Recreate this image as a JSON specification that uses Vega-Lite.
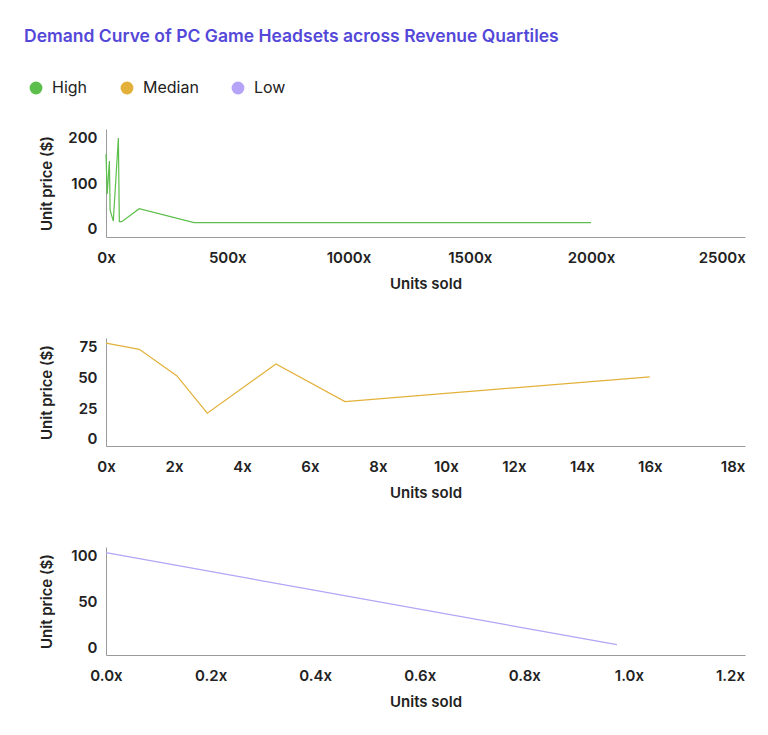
{
  "$schema": "https://vega.github.io/schema/vega-lite/v6.json",
  "background": "white",
  "padding": {"left": 24, "top": 27, "right": 10, "bottom": 10},
  "title": {"text": "Demand Curve of PC Game Headsets across Revenue Quartiles", "anchor": "start", "frame": "bounds", "color": "#5448d8", "font": "Inter", "fontSize": 17.5, "fontWeight": 600, "offset": 35, "dx": -4},
  "datasets": {
    "demand": [
      {"quartile": "High", "units": 0, "price": 163},
      {"quartile": "High", "units": 5, "price": 76},
      {"quartile": "High", "units": 14, "price": 148},
      {"quartile": "High", "units": 17, "price": 41},
      {"quartile": "High", "units": 30, "price": 17},
      {"quartile": "High", "units": 51, "price": 198},
      {"quartile": "High", "units": 55, "price": 16},
      {"quartile": "High", "units": 65, "price": 16},
      {"quartile": "High", "units": 137, "price": 44},
      {"quartile": "High", "units": 363, "price": 14},
      {"quartile": "High", "units": 2000, "price": 14},
      {"quartile": "Median", "units": 0, "price": 78},
      {"quartile": "Median", "units": 0.98, "price": 73},
      {"quartile": "Median", "units": 2.08, "price": 51.5},
      {"quartile": "Median", "units": 2.98, "price": 21},
      {"quartile": "Median", "units": 5.0, "price": 61},
      {"quartile": "Median", "units": 7.03, "price": 30.5},
      {"quartile": "Median", "units": 16.0, "price": 50.5},
      {"quartile": "Low", "units": 0, "price": 103},
      {"quartile": "Low", "units": 0.977, "price": 3}
    ]
  },
  "data": {"name": "demand"},
  "spacing": 47,
  "vconcat": [
    {
      "width": 639,
      "height": 108,
      "transform": [{"filter": "datum.quartile == 'High'"}],
      "mark": {"type": "line", "strokeWidth": 1.2, "interpolate": "linear"},
      "encoding": {
        "x": {"field": "units", "type": "quantitative", "title": "Units sold",
              "scale": {"domain": [0, 2635], "nice": false, "zero": false},
              "axis": {"values": [0, 500, 1000, 1500, 2000, 2500], "labelExpr": "datum.value + 'x'",
                       "labelAlign": {"condition": {"test": "datum.value == 2500", "value": "right"}, "value": "center"},
                       "labelOffset": {"condition": {"test": "datum.value == 2500", "value": 33}, "value": 0}}},
        "y": {"field": "price", "type": "quantitative", "title": "Unit price ($)",
              "scale": {"domain": [-17.4, 217.4], "nice": false, "zero": false},
              "axis": {"values": [0, 100, 200]}},
        "color": {"field": "quartile", "type": "nominal",
                  "scale": {"domain": ["High", "Median", "Low"], "range": ["#5cbf4b", "#e3b13a", "#b4a3f6"]},
                  "legend": {"orient": "none", "legendX": -78, "legendY": -49, "direction": "horizontal", "title": null,
                             "symbolType": "circle", "symbolSize": 165, "symbolStrokeWidth": 0,
                             "labelFont": "Inter", "labelFontSize": 16, "labelFontWeight": 400, "labelColor": "#222222",
                             "labelOffset": 8, "columnPadding": 31,
                             "encode": {"symbols": {"update": {"fill": {"scale": "color", "field": "value"}, "fillOpacity": {"value": 1}, "strokeWidth": {"value": 0}}}}}}
      }
    },
    {
      "width": 639,
      "height": 108,
      "transform": [{"filter": "datum.quartile == 'Median'"}],
      "mark": {"type": "line", "strokeWidth": 1.2, "interpolate": "linear"},
      "encoding": {
        "x": {"field": "units", "type": "quantitative", "title": "Units sold",
              "scale": {"domain": [0, 18.8], "nice": false, "zero": false},
              "axis": {"values": [0, 2, 4, 6, 8, 10, 12, 14, 16, 18], "labelExpr": "datum.value + 'x'",
                       "labelAlign": {"condition": {"test": "datum.value == 18", "value": "right"}, "value": "center"},
                       "labelOffset": {"condition": {"test": "datum.value == 18", "value": 27}, "value": 0}}},
        "y": {"field": "price", "type": "quantitative", "title": "Unit price ($)",
              "scale": {"domain": [-5.7, 82.2], "nice": false, "zero": false},
              "axis": {"values": [0, 25, 50, 75]}},
        "color": {"field": "quartile", "type": "nominal"}
      }
    },
    {
      "width": 639,
      "height": 108,
      "transform": [{"filter": "datum.quartile == 'Low'"}],
      "mark": {"type": "line", "strokeWidth": 1.2, "interpolate": "linear"},
      "encoding": {
        "x": {"field": "units", "type": "quantitative", "title": "Units sold",
              "scale": {"domain": [0, 1.222], "nice": false, "zero": false},
              "axis": {"values": [0, 0.2, 0.4, 0.6, 0.8, 1.0, 1.2], "labelExpr": "format(datum.value, '.1f') + 'x'",
                       "labelAlign": {"condition": {"test": "datum.value > 1.1", "value": "right"}, "value": "center"},
                       "labelOffset": {"condition": {"test": "datum.value > 1.1", "value": 11}, "value": 0}}},
        "y": {"field": "price", "type": "quantitative", "title": "Unit price ($)",
              "scale": {"domain": [-8.2, 109.2], "nice": false, "zero": false},
              "axis": {"values": [0, 50, 100]}},
        "color": {"field": "quartile", "type": "nominal"}
      }
    }
  ],
  "config": {
    "view": {"stroke": null},
    "font": "Inter",
    "axis": {"grid": false, "ticks": false, "domainColor": "#9a9a9a", "domainWidth": 1,
             "labelFont": "Inter", "labelFontSize": 15, "labelFontWeight": 600, "labelColor": "#222222",
             "titleFont": "Inter", "titleFontSize": 15, "titleFontWeight": 600, "titleColor": "#222222"},
    "axisX": {"labelPadding": 13, "titlePadding": 11},
    "axisY": {"labelPadding": 9, "titlePadding": 10, "minExtent": 42, "maxExtent": 42}
  }
}
